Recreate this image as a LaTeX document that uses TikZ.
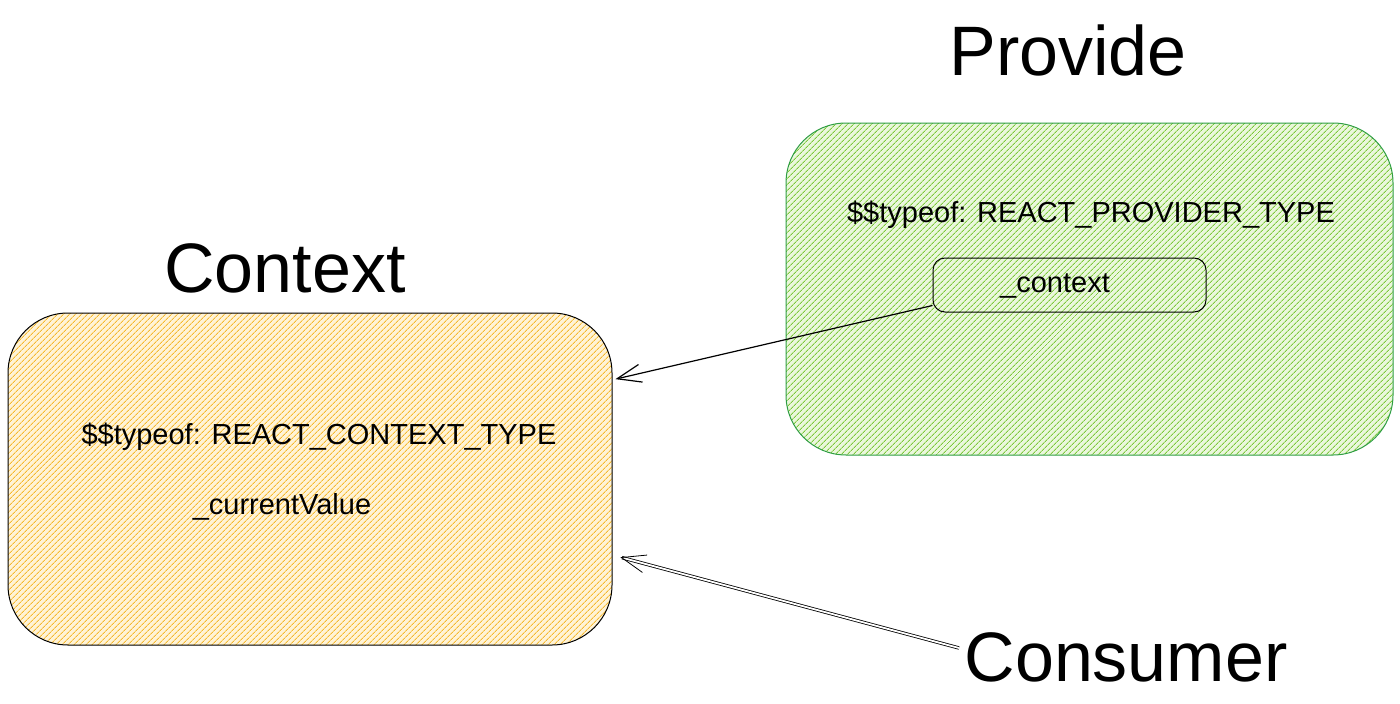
\documentclass[tikz,border=0pt]{standalone}
\usepackage{fontspec}
\setmainfont{Liberation Sans}
\usetikzlibrary{arrows.meta,patterns.meta,calc}

\definecolor{ctxhatch}{HTML}{F5B82E}
\definecolor{ctxbg}{HTML}{FFF3D6}
\definecolor{provhatch}{HTML}{7CC83A}
\definecolor{provbg}{HTML}{EAF7DC}
\definecolor{provedge}{HTML}{2F9E44}

\tikzset{
  panel/.style={rectangle, rounded corners=60pt, line width=1pt, inner sep=0pt},
  title/.style={font=\fontsize{70}{82}\selectfont},
  field/.style={font=\fontsize{29}{34}\selectfont},
  link/.style={-{Straight Barb[length=24pt,width=18pt]}, line width=1.2pt}
}

\begin{document}
\begin{tikzpicture}[x=1pt,y=-1pt]
            \useasboundingbox (0,0) rectangle (1400,704);

            % Context object
            \node[panel, draw=black, minimum width=604pt, minimum height=332pt,
                  preaction={fill=ctxbg},
                  pattern={Lines[angle=45,distance=4pt,line width=0.9pt]}, pattern color=ctxhatch] (ctx) at (310,479) {};
            \node[title] (ctxtitle) at (285,268) {Context};
            \node[field] (ctxtype) at (319,437) {\$\$typeof: REACT\_CONTEXT\_TYPE};
            \node[field] (curval) at (282,507) {\_currentValue};

            % Provider object
            \node[panel, draw=provedge, minimum width=607pt, minimum height=332pt,
                  preaction={fill=provbg},
                  pattern={Lines[angle=45,distance=4pt,line width=0.9pt]}, pattern color=provhatch] (prov) at (1089.5,289) {};
            \node[title] (provtitle) at (1068,50) {Provide};
            \node[field] (provtype) at (1091,215) {\$\$typeof: REACT\_PROVIDER\_TYPE};
            \node[panel, rounded corners=12pt, draw=black, minimum width=273pt, minimum height=54pt] (ctxfield) at (1069.5,285) {};
            \node[field] (ctxfieldtxt) at (1055,286) {\_context};

            % Consumer
            \node[title] (consumer) at (1126,657) {Consumer};

            % links
            \coordinate (hitA) at ($(ctx.north east)!0.2!(ctx.south east)+(3,0)$);
            \coordinate (hitB) at ($(ctx.north east)!0.735!(ctx.south east)+(8,0)$);
            \draw[link] ([yshift=7pt]ctxfield.south west) -- (hitA);
            \draw[link, double, double distance=1.8pt, line width=0.8pt] ([xshift=-2pt,yshift=9pt]consumer.west) -- (hitB);
        \end{tikzpicture}
\end{document}
